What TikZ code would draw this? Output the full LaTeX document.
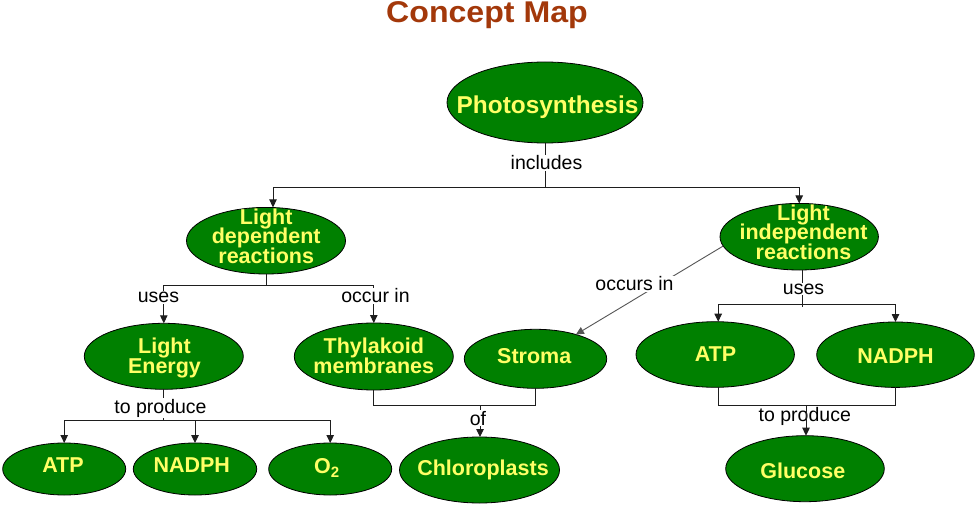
\documentclass[tikz,border=0pt]{standalone}
\usepackage{fontspec}
\setmainfont{Liberation Sans}
\usetikzlibrary{shapes.geometric,arrows.meta}
\definecolor{cgreen}{RGB}{0,128,0}
\definecolor{cyellow}{RGB}{255,255,102}
\definecolor{ctitle}{RGB}{163,56,10}
\definecolor{cline}{RGB}{30,30,30}
\definecolor{cgrayline}{RGB}{85,85,85}
\newcommand\tightls{\lineskiplimit=-100pt\relax}
\newcommand\nodefont{\bfseries\fontsize{21.5}{19.6}\selectfont\tightls}
\newcommand\nodefontb{\bfseries\fontsize{21.5}{20}\selectfont\tightls}
\tikzset{
  concept/.style={ellipse, draw=black, line width=0.8pt, fill=cgreen, inner sep=0pt, outer sep=0pt},
  sz/.style 2 args={minimum width=#1pt, minimum height=#2pt},
  ctext/.style={text=cyellow, inner sep=0pt, align=center, font=\nodefont},
  lbl/.style={text=black, fill=white, inner sep=1pt, font=\fontsize{19.5}{20}\selectfont},
  conn/.style={draw=cline, line width=0.9pt},
  arr/.style={conn, -{Triangle[length=8pt,width=7.5pt]}},
}
\begin{document}
\begin{tikzpicture}[x=1pt,y=-1pt]
\fill[white] (0,0) rectangle (976,505);
\useasboundingbox (0,0) rectangle (976,505);

% title
\node[font=\bfseries\fontsize{30}{30}\selectfont, text=ctitle, anchor=base, inner sep=0pt] (title) at (487,22.7) {\scalebox{1.07}[1]{Concept Map}};

% ellipses
\node[concept, sz={196}{81}]     (ph)   at (545,102.5) {};
\node[concept, sz={159}{66.6}]   (ldr)  at (266,240.7) {};
\node[concept, sz={158.4}{66.6}] (lir)  at (799.2,236.7) {};
\node[concept, sz={159}{66}]     (le)   at (163.8,356.3) {};
\node[concept, sz={159}{67}]     (thy)  at (373.8,356.5) {};
\node[concept, sz={142.4}{59}]   (str)  at (535.5,358.8) {};
\node[concept, sz={158.4}{65.6}] (atpR) at (715.2,354.5) {};
\node[concept, sz={157.6}{65.4}] (nadR) at (895.5,354.7) {};
\node[concept, sz={123}{52}]     (atpL) at (64.2,469) {};
\node[concept, sz={123.4}{52}]   (nadL) at (195,469) {};
\node[concept, sz={123}{52}]     (o2)   at (330.2,469) {};
\node[concept, sz={160}{66}]     (chl)  at (479.5,470) {};
\node[concept, sz={158.6}{66}]   (glu)  at (805,468.7) {};

% ellipse texts
\node[ctext, font=\bfseries\fontsize{24.4}{26}\selectfont, anchor=base] (ph-t) at (547.5,114) {Photosynthesis};
\node[ctext, anchor=north] (ldr-t) at (266.2,208.6) {Light\\dependent\\reactions};
\node[ctext, anchor=north] (lir-t) at (803.5,204.6) {Light\\independent\\reactions};
\node[ctext, font=\nodefontb, anchor=north] (le-t) at (164.5,337.3) {Light\\Energy};
\node[ctext, font=\nodefontb, anchor=north] (thy-t) at (373.8,337.3) {Thylakoid\\membranes};
\node[ctext, anchor=base] (atpL-t) at (63,472.3) {ATP};
\node[ctext, anchor=base] (nadL-t) at (191.8,472.5) {NADPH};
\node[ctext, anchor=base] (o2-t) at (326.7,473) {O\raisebox{-4pt}{\fontsize{15}{15}\selectfont 2}};
\node[ctext, anchor=base] (chl-t) at (483,475) {Chloroplasts};
\node[ctext, anchor=base] (str-t) at (534.2,363.3) {Stroma};
\node[ctext, anchor=base] (atpR-t) at (715.5,361.7) {ATP};
\node[ctext, anchor=base] (nadR-t) at (895.5,363) {NADPH};
\node[ctext, anchor=base] (glu-t) at (802.8,478) {Glucose};

% connectors
\coordinate (jA) at (545,187);
\draw[conn] (ph.south) -- (jA);
\draw[arr] (jA) -| ([xshift=7pt]ldr.north);
\draw[arr] (jA) -| (lir.north);

\path (ldr.south) ++(0,11.5) coordinate (jB);
\draw[conn] (ldr.south) -- (jB);
\draw[arr] (jB) -| (le.north);
\draw[arr] (jB) -| (thy.north);

\path (le.south) ++(0,30.7) coordinate (jC);
\draw[conn] (le.south) -- (jC);
\draw[arr] (jC) -| (atpL.north);
\draw[arr] (jC) -| (nadL.north);
\draw[arr] (jC) -| (o2.north);

\coordinate (jD) at (480,405.7);
\draw[conn] (thy.south) |- (jD) -| (str.south);
\draw[arr] (jD) -- (jD |- chl.north);

\draw[arr, draw=cgrayline] (lir.187) -- (str);

\path ([xshift=3.5pt]lir.south) ++(0,34.3) coordinate (jE);
\path (jE) ++(0,3) coordinate (jEend);
\draw[conn] ([xshift=3.5pt]lir.south) -- (jEend);
\draw[arr] (jE) -| ([xshift=3pt]atpR.north);
\draw[arr] (jE) -| (nadR.north);

\coordinate (jF) at (806,405.7);
\draw[conn] ([xshift=3pt]atpR.south) |- (jF) -| (nadR.south);

% labels
\node[lbl, anchor=base] (l-inc) at (546.5,170) {includes};
\node[lbl, anchor=base] (l-uses1) at (158.5,302.7) {uses};
\node[lbl, anchor=base] (l-occ) at (375.5,302.7) {occur in};
\node[lbl, anchor=base] (l-prod1) at (160.5,413.3) {to produce};
\node[lbl, anchor=base] (l-of) at (478,425) {of};
\node[lbl, anchor=base] (l-occs) at (634.5,290.7) {occurs in};
\node[lbl, anchor=base] (l-uses2) at (803.5,294) {uses};
\node[lbl, anchor=base, fill=none] (l-prod2) at (804.8,421.7) {to produce};
\draw[arr] (jF) -- (jF |- glu.north);
\end{tikzpicture}
\end{document}
